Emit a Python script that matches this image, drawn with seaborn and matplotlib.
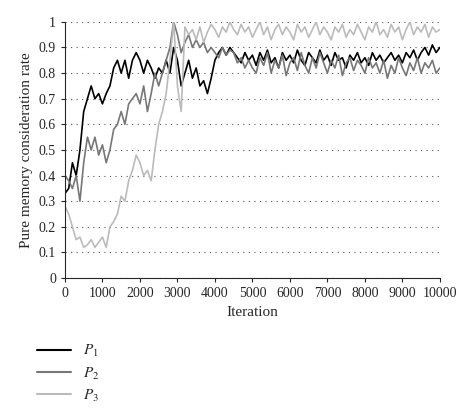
import pandas as pd
import matplotlib.pyplot as plt
import seaborn as sns

# Values, one every 100 iterations
iteration = list(range(0, 10001, 100))

p1 = [0.33, 0.35, 0.45, 0.40, 0.50, 0.65, 0.70, 0.75, 0.70, 0.72, 0.68,
      0.72, 0.75, 0.82, 0.85, 0.80, 0.85, 0.78, 0.85, 0.88, 0.85,
      0.80, 0.85, 0.82, 0.78, 0.82, 0.80, 0.85, 0.80, 0.90, 0.85,
      0.75, 0.80, 0.85, 0.78, 0.82, 0.75, 0.77, 0.72, 0.78, 0.85,
      0.88, 0.90, 0.87, 0.90, 0.88, 0.86, 0.84, 0.88, 0.85, 0.87,
      0.83, 0.88, 0.85, 0.89, 0.84, 0.86, 0.82, 0.88, 0.85, 0.87,
      0.84, 0.89, 0.85, 0.83, 0.88, 0.86, 0.84, 0.89, 0.85, 0.87,
      0.83, 0.88, 0.85, 0.86, 0.82, 0.87, 0.85, 0.88, 0.84, 0.86,
      0.83, 0.88, 0.85, 0.87, 0.84, 0.86, 0.88, 0.85, 0.87, 0.84,
      0.88, 0.86, 0.89, 0.85, 0.88, 0.90, 0.87, 0.91, 0.88, 0.90]

p2 = [0.40, 0.38, 0.35, 0.40, 0.30, 0.45, 0.55, 0.50, 0.55, 0.48, 0.52,
      0.45, 0.50, 0.58, 0.60, 0.65, 0.60, 0.68, 0.70, 0.72, 0.68,
      0.75, 0.65, 0.72, 0.80, 0.75, 0.80, 0.85, 0.90, 1.00, 0.95,
      0.88, 0.92, 0.95, 0.90, 0.93, 0.90, 0.92, 0.88, 0.90, 0.88,
      0.86, 0.90, 0.87, 0.89, 0.88, 0.84, 0.86, 0.82, 0.85, 0.82,
      0.80, 0.86, 0.83, 0.88, 0.80, 0.85, 0.82, 0.87, 0.79, 0.84,
      0.86, 0.81, 0.88, 0.83, 0.80, 0.86, 0.82, 0.88, 0.84, 0.80,
      0.85, 0.82, 0.87, 0.79, 0.84, 0.86, 0.81, 0.85, 0.83, 0.80,
      0.86, 0.82, 0.84, 0.80, 0.85, 0.78, 0.83, 0.80, 0.86, 0.82,
      0.79, 0.84, 0.81, 0.86, 0.80, 0.84, 0.82, 0.85, 0.80, 0.82]

p3 = [0.28, 0.25, 0.20, 0.15, 0.16, 0.12, 0.13, 0.15, 0.12, 0.14, 0.16,
      0.12, 0.20, 0.22, 0.25, 0.32, 0.30, 0.38, 0.42, 0.48, 0.45,
      0.40, 0.42, 0.38, 0.50, 0.60, 0.65, 0.72, 0.85, 1.00, 0.75,
      0.65, 0.98, 0.95, 0.97, 0.93, 0.98, 0.92, 0.96, 0.99, 0.97,
      0.94, 0.98, 0.96, 1.00, 0.97, 0.95, 0.99, 0.96, 0.98, 0.94,
      0.97, 1.00, 0.95, 0.98, 0.93, 0.97, 0.99, 0.95, 0.98, 0.96,
      0.93, 0.99, 0.96, 0.98, 0.94, 0.97, 1.00, 0.95, 0.98, 0.96,
      0.93, 0.98, 0.96, 0.99, 0.94, 0.97, 0.95, 0.99, 0.96, 0.93,
      0.98, 0.96, 1.00, 0.95, 0.97, 0.94, 0.99, 0.96, 0.98, 0.93,
      0.97, 1.00, 0.95, 0.98, 0.96, 0.99, 0.94, 0.98, 0.96, 0.97]

labels = ['$P_1$', '$P_2$', '$P_3$']
colors = ['#000000', '#777777', '#bbbbbb']

df = pd.DataFrame({'Iteration': iteration, labels[0]: p1, labels[1]: p2, labels[2]: p3})
long = df.melt('Iteration', var_name='series', value_name='rate')

sns.set_style('ticks')
plt.rcParams['font.family'] = ['Liberation Serif', 'DejaVu Serif']
plt.rcParams['mathtext.fontset'] = 'stix'

fig = plt.figure(figsize=(4.74, 4.12), dpi=100)
ax = fig.add_axes([0.137, 0.325, 0.791, 0.622])
sns.lineplot(data=long, x='Iteration', y='rate', hue='series',
             palette=colors, linewidth=1.2, ax=ax, legend=False)

ax.set_xlim(0, 10000)
ax.set_ylim(0, 1)
ax.set_xticks(range(0, 10001, 1000))
ax.set_yticks([i / 10 for i in range(11)])
ax.set_yticklabels(['0'] + [f'{i/10:g}' for i in range(1, 10)] + ['1'])
ax.yaxis.grid(True, linestyle=(0, (1, 4)), color='#555555', linewidth=0.8)
ax.tick_params(labelsize=10, length=3)
for s in ['top', 'right']:
    ax.spines[s].set_visible(False)
ax.set_xlabel('Iteration', fontsize=11)
ax.set_ylabel('Pure memory consideration rate', fontsize=11)

handles = [plt.Line2D([], [], color=c, linewidth=1.5) for c in colors]
fig.legend(handles, labels, loc='upper left', bbox_to_anchor=(0.05, 0.2),
           frameon=False, fontsize=11, handlelength=2.2, labelspacing=0.4)

fig.savefig('out.png', dpi=100)
